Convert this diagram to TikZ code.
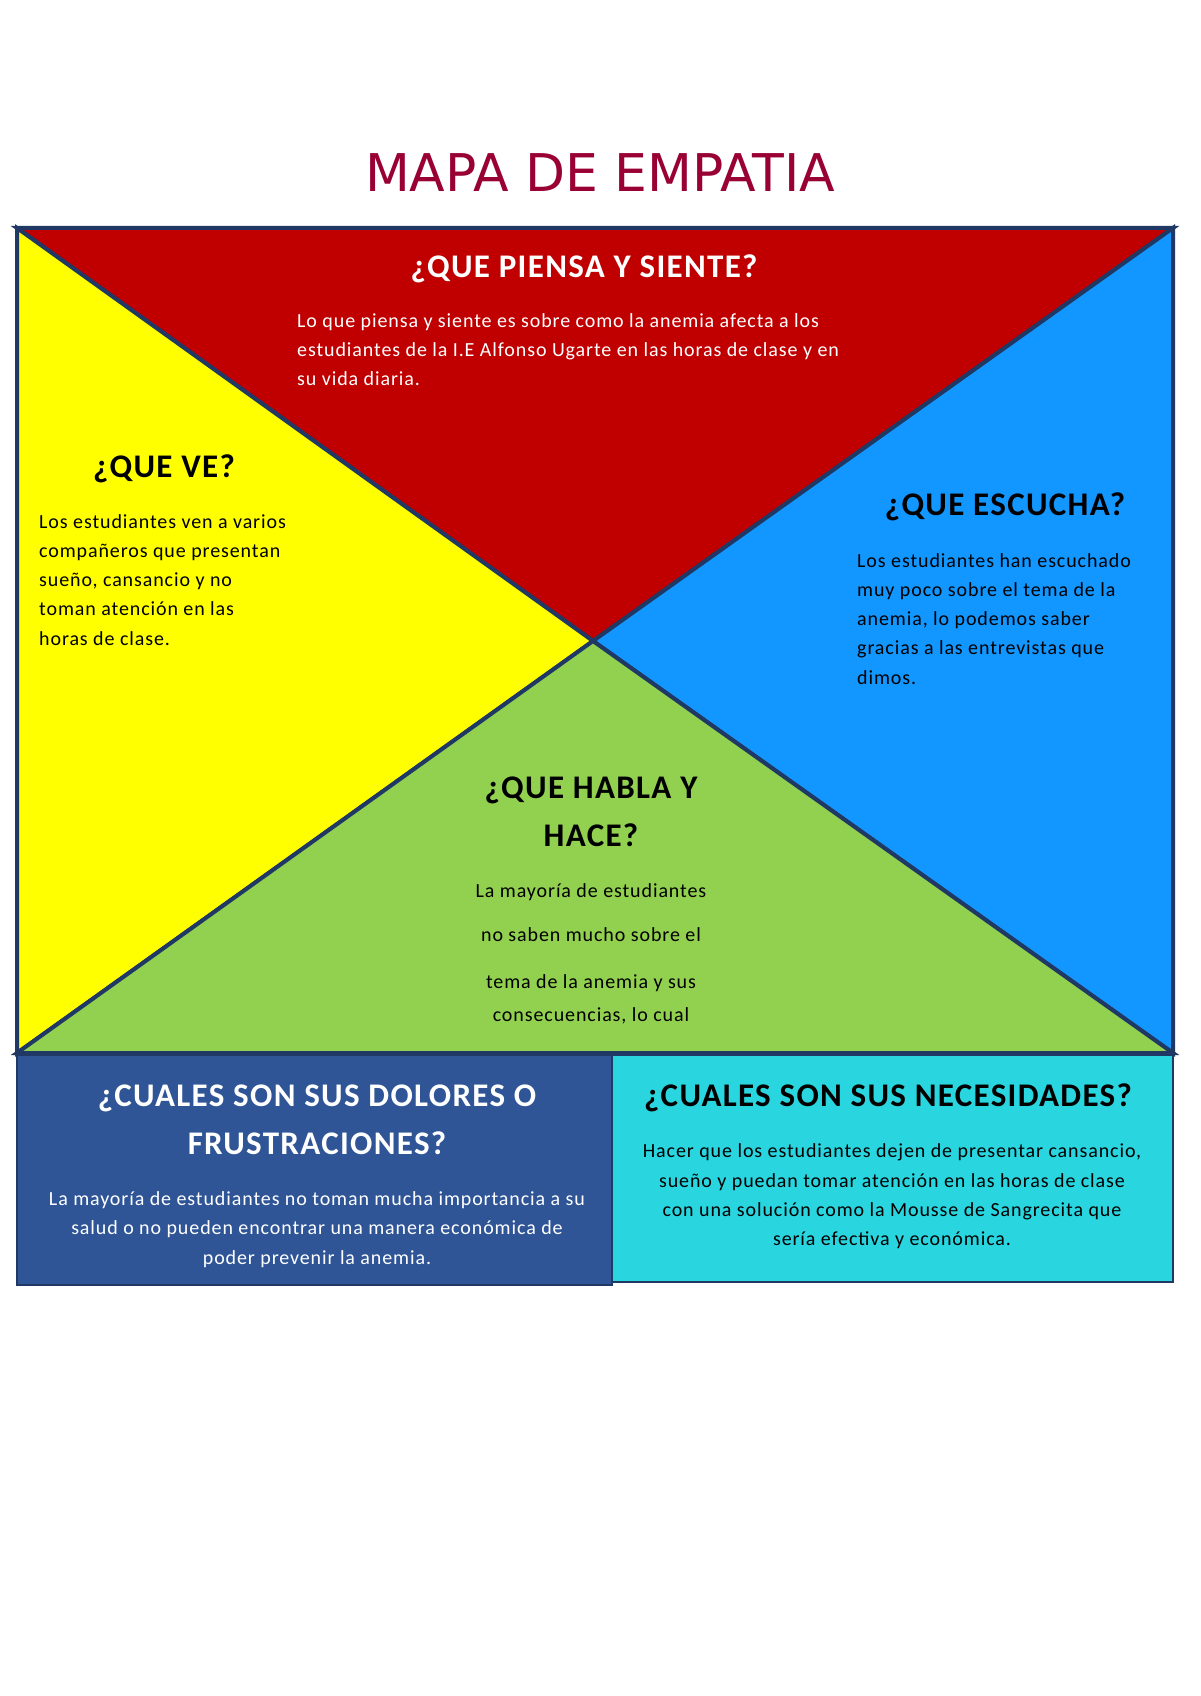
\documentclass[tikz,border=0pt]{standalone}
\usepackage{fontspec}
\setmainfont{Carlito}
\newfontfamily\titlefont{DejaVu Sans}
\newfontfamily\bodyfont[LetterSpace=4.5]{Carlito}
\newfontfamily\headfont[LetterSpace=4]{Carlito}
\definecolor{titlered}{HTML}{990033}
\definecolor{zred}{HTML}{C00000}
\definecolor{zyellow}{HTML}{FFFF00}
\definecolor{zblue}{HTML}{1296FF}
\definecolor{zgreen}{HTML}{92D050}
\definecolor{zdark}{HTML}{2F5597}
\definecolor{zcyan}{HTML}{29D6E0}
\definecolor{navy}{HTML}{1F3864}
\begin{document}
\begin{tikzpicture}[x=1pt,y=-1pt,
  zone/.style={draw=navy,line width=4pt,line join=miter},
  boxzone/.style={draw=navy,line width=2.5pt},
  head/.style={font=\headfont\fontsize{33}{48.5}\selectfont\bfseries,align=center,inner sep=0pt,anchor=base},
  body/.style={font=\bodyfont\fontsize{20}{29.3}\selectfont,inner sep=0pt},
  bodyc/.style={body,align=center,anchor=base},
  bodyl/.style={body,align=left,anchor=base west}]
\fill[white] (0,0) rectangle (1200,1696);
\useasboundingbox (0,0) rectangle (1200,1696);
% title
\node[font=\titlefont\fontsize{52}{60}\selectfont,text=titlered,inner sep=0pt,anchor=base] (title) at (600,192) {MAPA DE EMPATIA};
% quadrants
\coordinate (c) at (593,641);
\filldraw[zone,fill=zred] (17,228) -- (1173,228) -- (c) -- cycle;
\filldraw[zone,fill=zyellow] (17,228) -- (c) -- (17,1053) -- cycle;
\filldraw[zone,fill=zblue] (1173,228) -- (1173,1053) -- (c) -- cycle;
\filldraw[zone,fill=zgreen] (17,1053) -- (c) -- (1173,1053) -- cycle;
% bottom boxes
\filldraw[boxzone,fill=zdark] (17,1055) rectangle (612,1285);
\filldraw[boxzone,fill=zcyan] (612,1055) rectangle (1173,1282);
% red
\node[head,text=white] (hpiensa) at (584,277) {¿QUE PIENSA Y SIENTE?};
\node[bodyl,text=white] (tpiensa) at (297,385.6) {Lo que piensa y siente es sobre como la anemia afecta a los\\estudiantes de la I.E Alfonso Ugarte en las horas de clase y en\\su vida diaria.};
% yellow
\node[head] (hve) at (164,477) {¿QUE VE?};
\node[bodyl] (tve) at (39,645.2) {Los estudiantes ven a varios\\compañeros que presentan\\sueño, cansancio y no\\toman atención en las\\horas de clase.};
% blue
\node[head] (hescucha) at (1005,515) {¿QUE ESCUCHA?};
\node[bodyl] (tescucha) at (857,684.2) {Los estudiantes han escuchado\\muy poco sobre el tema de la\\anemia, lo podemos saber\\gracias a las entrevistas que\\dimos.};
% green
\node[head] (hhabla) at (591,846.5) {¿QUE HABLA Y\\HACE?};
\node[bodyc] (thabla) at (591,1021) {La mayoría de estudiantes\\[15pt]no saben mucho sobre el\\[18pt]tema de la anemia y sus\\[3pt]consecuencias, lo cual};
% bottom left
\node[head,text=white] (hdolores) at (317,1154.5) {¿CUALES SON SUS DOLORES O\\FRUSTRACIONES?};
\node[bodyc,text=white] (tdolores) at (317,1264.2) {La mayoría de estudiantes no toman mucha importancia a su\\salud o no pueden encontrar una manera económica de\\poder prevenir la anemia.};
% bottom right
\node[head] (hnecesidades) at (888,1106) {¿CUALES SON SUS NECESIDADES?};
\node[bodyc] (tnecesidades) at (892,1245.7) {Hacer que los estudiantes dejen de presentar cansancio,\\sueño y puedan tomar atención en las horas de clase\\con una solución como la Mousse de Sangrecita que\\sería efectiva y económica.};
\end{tikzpicture}
\end{document}
